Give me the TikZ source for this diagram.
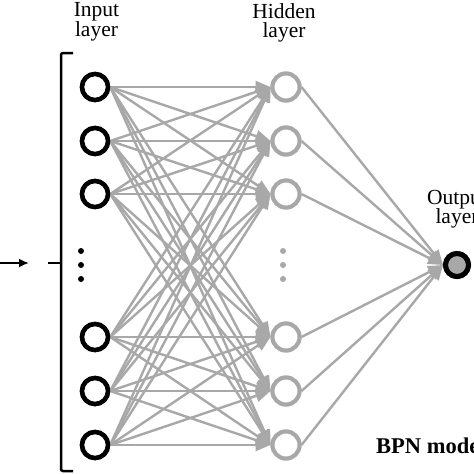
\documentclass[tikz,border=0pt]{standalone}
\usepackage{fontspec}
\setmainfont{Liberation Serif}
\usetikzlibrary{arrows.meta}
\definecolor{netgray}{HTML}{A8A8A8}
\tikzset{
  innode/.style={circle,draw=black,line width=4.5pt,minimum size=26pt,inner sep=0pt,fill=white},
  hidnode/.style={circle,draw=netgray,line width=4pt,minimum size=27pt,inner sep=0pt,fill=white},
  outnode/.style={circle,draw=black,line width=5pt,minimum size=23pt,inner sep=0pt,fill=netgray},
  conn/.style={draw=netgray,line width=2.4pt,-{Triangle[length=15pt,width=12pt]}},
  lab/.style={align=center,font=\fontsize{21.5}{19.5}\selectfont,inner sep=0pt,anchor=north},
  dotb/.style={circle,fill=black,inner sep=0pt,minimum size=6pt},
  dotg/.style={circle,fill=netgray,inner sep=0pt,minimum size=6pt},
  brk/.style={draw=black,line width=2.5pt}
}
\begin{document}
\begin{tikzpicture}[x=1pt,y=-1pt]
\useasboundingbox (0,0) rectangle (474,474);
\clip (0,0) rectangle (474,474);
\fill[white] (0,0) rectangle (474,474);
% input and hidden nodes
\foreach \n/\y in {1/87,2/141,3/194,4/337,5/391,6/445}{
  \node[innode] (i\n) at (95,\y) {};
  \node[hidnode] (h\n) at (286,\y) {};
}
\node[outnode] (o) at (457,265) {};
% connections
\foreach \a in {1,...,6}{
  \foreach \b in {1,...,6}{
    \draw[conn] (i\a.east) -- (h\b.west);
  }
}
\foreach \b in {1,...,6}{
  \draw[conn] (h\b.east) -- (o.west);
}
% redraw nodes on top
\foreach \n/\y in {1/87,2/141,3/194,4/337,5/391,6/445}{
  \node[innode] at (95,\y) {};
  \node[hidnode] at (286,\y) {};
}
\node[outnode] at (457,265) {};
% dots
\node[dotb] (d1) at (81,251) {};
\node[dotb] (d2) at (81,265) {};
\node[dotb] (d3) at (81,279) {};
\node[dotg] (e1) at (283,251) {};
\node[dotg] (e2) at (283,265) {};
\node[dotg] (e3) at (283,279) {};
% bracket
\coordinate (bt) at (73,53);
\coordinate (btl) at (61,53);
\coordinate (bbl) at (61,471);
\coordinate (bb) at (73,471);
\coordinate (bm) at (61,263);
\coordinate (bmt) at (48,263);
\draw[brk,rounded corners=2pt] (bt) -- (btl) -- (bbl) -- (bb);
\draw[brk] (bm) -- (bmt);
\coordinate (as) at (0,263);
\coordinate (ae) at (29,263);
\draw[line width=2pt,-{Latex[length=10pt,width=9pt]}] (as) -- (ae);
% labels
\node[lab] (li) at (96.5,2.5) {Input\\layer};
\node[lab] (lh) at (284,3) {Hidden\\layer};
\node[lab] (lo) at (457,190) {Output\\layer};
\node[font=\fontsize{22.5}{24}\selectfont\bfseries,anchor=base west,inner sep=0pt] (bpn) at (376,453) {BPN model};
\end{tikzpicture}
\end{document}
